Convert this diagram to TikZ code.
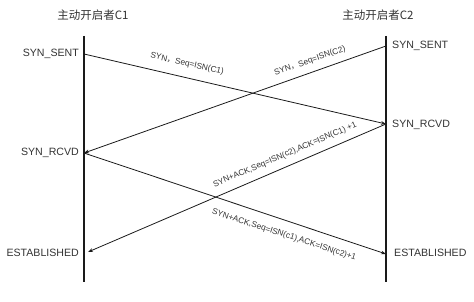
\documentclass[tikz,border=0pt]{standalone}
\usepackage{fontspec}
\setmainfont{Liberation Sans}
\newfontfamily\cjk{Noto Sans CJK SC}
\usepackage{tikz}
\usetikzlibrary{arrows.meta,positioning}
\definecolor{txtgray}{HTML}{333333}
\definecolor{linegray}{HTML}{1A1A1A}

\begin{document}
\begin{tikzpicture}[
  x=1pt,y=-1pt,
  title/.style={font=\fontsize{11.5}{13}\selectfont,text=txtgray,inner sep=1pt},
  state/.style={font=\fontsize{10.6}{12}\selectfont,text=txtgray,inner sep=1pt},
  msg/.style={font=\fontsize{8.3}{10}\selectfont,text=txtgray,inner sep=0pt},
  life/.style={draw=linegray,line width=1.1pt},
  arr/.style={-{Stealth[length=5pt,width=3.6pt]},draw=linegray,line width=0.8pt}
]
\useasboundingbox (0,0) rectangle (474,302);

% the two hosts
\node[title] (hostA) at (93,15) {\cjk 主动开启者C1};
\node[title] (hostB) at (378,15) {\cjk 主动开启者C2};
\coordinate (aTop) at (84,36);
\coordinate (aBot) at (84,282);
\coordinate (bTop) at (386,36);
\coordinate (bBot) at (386,282);
\draw[life] (aTop) -- (aBot);
\draw[life] (bTop) -- (bBot);

% events on the lifelines
\coordinate (aSent) at (84,54);
\coordinate (aRcvd) at (84,153);
\coordinate (aEst) at (88,252);
\coordinate (bSent) at (386,46);
\coordinate (bRcvd) at (386,124);
\coordinate (bEst) at (386,254);

% states
\node[state,anchor=east] (aSentLbl) at (80,54) {SYN\_SENT};
\node[state,anchor=east] (aRcvdLbl) at (80,153) {SYN\_RCVD};
\node[state,anchor=east] (aEstLbl) at (80,253) {ESTABLISHED};
\node[state,anchor=west] (bSentLbl) at (391,46) {SYN\_SENT};
\node[state,anchor=west] (bRcvdLbl) at (391,125) {SYN\_RCVD};
\node[state,anchor=west] (bEstLbl) at (393,253) {ESTABLISHED};

% messages
\draw[arr] (aSent) -- (bRcvd);
\draw[arr] (bSent) -- (aRcvd);
\draw[arr] (aRcvd) -- (bEst);
\draw[arr] (bRcvd) -- (aEst);

\node[msg,rotate=-13] (synA) at (187,64) {SYN{\cjk ，}Seq=ISN(C1)};
\node[msg,rotate=19.3] (synB) at (310,61) {SYN{\cjk ，}Seq=ISN(C2)};
\node[msg,rotate=23] (ackB) at (285,155) {SYN+ACK,Seq=ISN(c2),ACK=ISN(C1) +1};
\node[msg,rotate=-18] (ackA) at (284,235) {SYN+ACK,Seq=ISN(c1),ACK=ISN(c2)+1};
\end{tikzpicture}
\end{document}
